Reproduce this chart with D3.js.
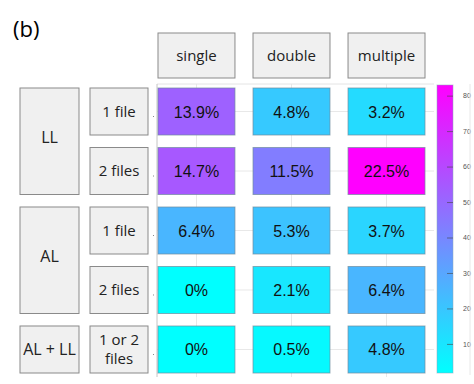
<!DOCTYPE html>
<html>
<head>
<meta charset="utf-8">
<script src="https://cdn.jsdelivr.net/npm/d3@7"></script>
<style>
  body { margin: 0; background: #fff; }
  svg { display: block; }
</style>
</head>
<body>
<svg class="chart" width="474" height="384"></svg>
<script>
// data
const columns = ['single', 'double', 'multiple']
const rows = ['LL-1', 'LL-2', 'AL-1', 'AL-2', 'ALLL-12']
const rowLabels = [['1 file'], ['2 files'], ['1 file'], ['2 files'], ['1 or 2', 'files']]
const groups = [
  { label: 'AL + LL', from: 'ALLL-12', to: 'ALLL-12' },
  { label: 'AL', from: 'AL-1', to: 'AL-2' },
  { label: 'LL', from: 'LL-1', to: 'LL-2' }
]
const values = [
  [13.9, 4.8, 3.2],
  [14.7, 11.5, 22.5],
  [6.4, 5.3, 3.7],
  [0, 2.1, 6.4],
  [0, 0.5, 4.8]
]
const colorbarTicks = [10, 20, 30, 40, 50, 60, 70, 80]
const colorbarDomain = [1.8, 83]

const svg = d3.select('svg.chart')
const boxFill = '#f0f0f0'
const boxStroke = '#8a8a8a'

const x = d3.scaleBand().domain(columns).range([158, 425]).paddingInner(0.19)
const y = d3.scaleBand().domain(rows).range([88, 373]).paddingInner(0.21)
const color = d3.scaleLinear().domain([0, d3.max(values.flat())]).range(['#00ffff', '#ff00ff'])

// panel letter
svg.append('text')
  .attr('x', 13).attr('y', 37)
  .style('font-family', 'Open Sans, sans-serif')
  .style('font-size', '22px')
  .text('(b)')

// axes frame + grid
const plotL = 157; const plotR = 434; const plotT = 84; const plotB = 377
const grid = svg.append('g')
grid.selectAll('line.gx').data(columns).join('line')
  .attr('x1', d => x(d) + x.bandwidth() / 2).attr('x2', d => x(d) + x.bandwidth() / 2)
  .attr('y1', plotT).attr('y2', plotB)
  .attr('stroke', '#e8e8e8')
grid.selectAll('line.gy').data(rows).join('line')
  .attr('y1', d => y(d) + y.bandwidth() / 2).attr('y2', d => y(d) + y.bandwidth() / 2)
  .attr('x1', plotL).attr('x2', plotR)
  .attr('stroke', '#e8e8e8')
svg.append('line')
  .attr('x1', plotL).attr('x2', plotR).attr('y1', plotT).attr('y2', plotT)
  .attr('stroke', '#e4e4e4')

svg.append('g')
  .attr('transform', `translate(${plotL},0)`)
  .call(g => {
    g.append('line').attr('y1', plotT).attr('y2', plotB).attr('stroke', '#c4c4c4')
    g.selectAll('line.t').data(rows).join('line')
      .attr('class', 't')
      .attr('x1', -4).attr('x2', -3)
      .attr('y1', d => y(d) + y.bandwidth() / 2 + 5)
      .attr('y2', d => y(d) + y.bandwidth() / 2 + 5)
      .attr('stroke', '#888')
  })

// cells
const cells = svg.append('g').selectAll('g.cell')
  .data(values.flatMap((r, i) => r.map((v, j) => ({ row: rows[i], col: columns[j], v }))))
  .join('g').attr('class', 'cell')
cells.append('rect')
  .attr('x', d => x(d.col)).attr('y', d => y(d.row))
  .attr('width', x.bandwidth()).attr('height', y.bandwidth())
  .attr('fill', d => color(d.v))
  .attr('stroke', '#6f8c9c').attr('stroke-opacity', 0.7)
cells.append('text')
  .attr('x', d => x(d.col) + x.bandwidth() / 2)
  .attr('y', d => y(d.row) + y.bandwidth() / 2 + 6)
  .attr('text-anchor', 'middle')
  .style('font-family', 'Liberation Sans, Arial, sans-serif')
  .style('font-size', '16px')
  .attr('fill', '#111')
  .text(d => `${d.v}%`)

// column header boxes
const hdr = svg.append('g').selectAll('g').data(columns).join('g')
hdr.append('rect')
  .attr('x', d => x(d)).attr('y', 33)
  .attr('width', x.bandwidth()).attr('height', 45)
  .attr('fill', boxFill).attr('stroke', boxStroke)
hdr.append('text')
  .attr('x', d => x(d) + x.bandwidth() / 2).attr('y', 61)
  .attr('text-anchor', 'middle')
  .style('font-family', 'Open Sans, sans-serif')
  .style('font-size', '15px')
  .attr('fill', '#222')
  .text(d => d)

// row label boxes
const rl = svg.append('g').selectAll('g').data(rows).join('g')
rl.append('rect')
  .attr('x', 90).attr('y', d => y(d))
  .attr('width', 58).attr('height', y.bandwidth())
  .attr('fill', boxFill).attr('stroke', boxStroke)
rl.append('text')
  .attr('x', 120)
  .attr('y', d => y(d) + y.bandwidth() / 2 + 5)
  .attr('text-anchor', 'middle')
  .style('font-family', 'Open Sans, sans-serif')
  .style('font-size', '15px')
  .attr('fill', '#222')
  .each(function (d, i) {
    const lines = rowLabels[i]
    const t = d3.select(this)
    lines.forEach((s, k) => {
      t.append('tspan')
        .attr('x', 119)
        .attr('dy', k === 0 ? (lines.length > 1 ? -9 : 0) : 19)
        .text(s)
    })
  })

// group boxes
const gb = svg.append('g').selectAll('g').data(groups).join('g')
gb.append('rect')
  .attr('x', 20).attr('y', d => y(d.from))
  .attr('width', 59).attr('height', d => y(d.to) + y.bandwidth() - y(d.from))
  .attr('fill', boxFill).attr('stroke', boxStroke)
gb.append('text')
  .attr('x', 49.5)
  .attr('y', d => (y(d.from) + y(d.to) + y.bandwidth()) / 2 + (d.from === d.to ? 6 : 2))
  .attr('text-anchor', 'middle')
  .style('font-family', 'Open Sans, sans-serif')
  .style('font-size', '16px')
  .attr('fill', '#222')
  .text(d => d.label)

// colorbar
const cbX = 437; const cbW = 16
const cb = d3.scaleLinear().domain(colorbarDomain).range([373, 85])
const defs = svg.append('defs')
const grad = defs.append('linearGradient')
  .attr('id', 'cbGrad').attr('x1', 0).attr('x2', 0).attr('y1', 1).attr('y2', 0)
grad.append('stop').attr('offset', 0).attr('stop-color', '#00ffff')
grad.append('stop').attr('offset', 1).attr('stop-color', '#ff00ff')
svg.append('rect')
  .attr('x', cbX).attr('y', cb(colorbarDomain[1]))
  .attr('width', cbW).attr('height', cb(colorbarDomain[0]) - cb(colorbarDomain[1]))
  .attr('fill', 'url(#cbGrad)')
  .attr('stroke', '#8ab').attr('stroke-opacity', 0.5)
const cbAxis = d3.axisRight(cb).tickValues(colorbarTicks).tickSize(-6).tickPadding(10)
svg.append('g')
  .attr('transform', `translate(${cbX + cbW},0)`)
  .call(cbAxis)
  .call(g => g.select('.domain').remove())
  .call(g => g.selectAll('line').attr('stroke', '#444').attr('stroke-opacity', 0.6))
  .call(g => g.selectAll('text').attr('fill', '#555').style('font-size', '7px'))
svg.append('line')
  .attr('x1', 470).attr('x2', 470).attr('y1', 84).attr('y2', 375)
  .attr('stroke', '#e8e8e8')
</script>
</body>
</html>
